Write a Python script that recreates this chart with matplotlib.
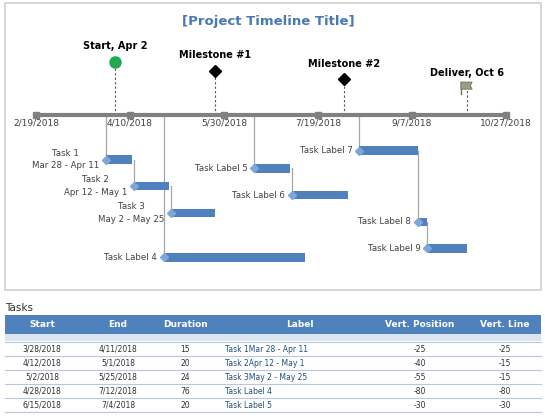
import numpy as np
import pandas as pd
import matplotlib.pyplot as plt
from matplotlib.patches import Rectangle

# Datos
task_labels = ['Task 1\nMar 28 - Apr 11', 'Task 2\nApr 12 - May 1', 'Task 3\nMay 2 - May 25',
               'Task Label 4', 'Task Label 5', 'Task Label 6', 'Task Label 7',
               'Task Label 8', 'Task Label 9']
task_start = ['2018-03-28', '2018-04-12', '2018-05-02', '2018-04-28', '2018-06-15',
              '2018-07-05', '2018-08-10', '2018-09-10', '2018-09-15']
task_end = ['2018-04-11', '2018-05-01', '2018-05-25', '2018-07-12', '2018-07-04',
            '2018-08-04', '2018-09-10', '2018-09-15', '2018-10-06']
task_pos = [-25, -40, -55, -80, -30, -45, -20, -60, -75]
task_vline = [-25, -15, -15, -80, -30, -15, -20, -40, -15]

ms_labels = ['Start, Apr 2', 'Milestone #1', 'Milestone #2', 'Deliver, Oct 6']
ms_dates = ['2018-04-02', '2018-05-25', '2018-08-02', '2018-10-06']
ms_pos = [30, 25, 20, 15]

tick_dates = ['2018-02-19', '2018-04-10', '2018-05-30', '2018-07-19', '2018-09-07', '2018-10-27']

tbl_cols = ['Start', 'End', 'Duration', 'Label', 'Vert. Position', 'Vert. Line']
tbl_start = ['3/28/2018', '4/12/2018', '5/2/2018', '4/28/2018', '6/15/2018']
tbl_end = ['4/11/2018', '5/1/2018', '5/25/2018', '7/12/2018', '7/4/2018']
tbl_dur = [15, 20, 24, 76, 20]
tbl_label = ['Task 1Mar 28 - Apr 11', 'Task 2Apr 12 - May 1', 'Task 3May 2 - May 25',
             'Task Label 4', 'Task Label 5']
tbl_vpos = [-25, -40, -55, -80, -30]
tbl_vline = [-25, -15, -15, -80, -30]

d0 = pd.Timestamp(tick_dates[0])
def days(s):
    return (pd.Timestamp(s) - d0).days

W, H = 545, 420
pxd = 470 / 250.0   # pixels por dia
pxu = 1.78          # pixels por unidad vertical
x0, y0 = 36, 115

fig = plt.figure(figsize=(W / 100, H / 100), dpi=100)
fig.patch.set_facecolor('white')
ax = fig.add_axes([0, 0, 1, 1])
ax.set_xlim(-x0 / pxd, (W - x0) / pxd)
ax.set_ylim((y0 - H) / pxu, y0 / pxu)
ax.axis('off')

blue = '#4f81bd'
txt = '#404040'

# Marco del grafico
fig.patches.append(Rectangle((5 / W, 1 - 290 / H), 536 / W, 287 / H, transform=fig.transFigure,
                             fill=False, ec='#d0d0d0', lw=1.2))
fig.text(268 / W, 1 - 22 / H, '[Project Timeline Title]', ha='center', va='center',
         color='#4a7ab5', fontsize=9.5, fontweight='bold')

# Eje de tiempo
tk = [days(t) for t in tick_dates]
ax.plot([tk[0], tk[-1]], [0, 0], color='#808080', lw=3, solid_capstyle='butt', zorder=2)
ax.plot(tk, [0] * len(tk), 's', color='#808080', ms=4, zorder=2)
for t, s in zip(tk, tick_dates):
    ts = pd.Timestamp(s)
    ax.text(t, -4.5, f'{ts.month}/{ts.day}/{ts.year}', ha='center', va='center',
            fontsize=6.5, color=txt)

# Hitos
for lab, d, p in zip(ms_labels, ms_dates, ms_pos):
    x = days(d)
    ax.plot([x, x], [0, p], ls=(0, (2, 2)), color='#555555', lw=0.8, zorder=1)
    if lab.startswith('Start'):
        ax.plot(x, p, 'o', color='#1faa4f', ms=8, zorder=3)
    elif lab.startswith('Deliver'):
        ax.plot([x - 3, x - 3], [p - 3, p + 3.5], color='#707060', lw=1, zorder=3)
        ax.fill([x - 3, x + 3, x + 2, x + 3, x - 3], [p + 3.5, p + 3.5, p + 1.5, p - 0.5, p - 0.5],
                color='#a09c88', ec='#707060', lw=0.6, zorder=3)
    else:
        ax.plot(x, p, 'D', color='black', ms=6, zorder=3)
    ax.text(x, p + 8.5, lab, ha='center', va='center', fontsize=7, fontweight='bold', color='black')

# Tareas
for lab, s, e, p, v in zip(task_labels, task_start, task_end, task_pos, task_vline):
    xs, xe = days(s), days(e)
    ax.plot([xs, xs], [p, p - v], color='#a6a6a6', lw=0.9, zorder=1)
    ax.barh(p, xe - xs, left=xs, height=4.8, color=blue, zorder=2)
    ax.plot(xs, p, 'D', color='#7ea6d8', ms=4.5, zorder=3)
    ax.text(xs - 3.5, p, lab, ha='right', va='center', fontsize=6.2, color=txt,
            multialignment='center', linespacing=1.5)

# Tabla
def fy(y):
    return 1 - y / H

fig.text(5 / W, fy(308), 'Tasks', ha='left', va='center', fontsize=7.5, color='#303030')
fig.patches.append(Rectangle((5 / W, fy(334)), 536 / W, 19 / H, transform=fig.transFigure,
                             color=blue, ec='none'))
fig.patches.append(Rectangle((5 / W, fy(341)), 536 / W, 7 / H, transform=fig.transFigure,
                             color='#dce6f1', ec='none'))
col_x = [42, 118, 185, 300, 420, 505]
for cx, c in zip(col_x, tbl_cols):
    fig.text(cx / W, fy(324.5), c, ha='center', va='center', fontsize=6.5,
             color='white', fontweight='bold')

row_y = [349, 363, 377, 391, 405]
for i, ry in enumerate(row_y):
    vals = [tbl_start[i], tbl_end[i], str(tbl_dur[i]), tbl_label[i],
            str(tbl_vpos[i]), str(tbl_vline[i])]
    for j, (cx, v) in enumerate(zip(col_x, vals)):
        if j == 3:
            fig.text(225 / W, fy(ry), v, ha='left', va='center', fontsize=5.5, color='#1f4e79')
        else:
            fig.text(cx / W, fy(ry), v, ha='center', va='center', fontsize=5.5, color='#303030')
    fig.lines.append(plt.Line2D([5 / W, 541 / W], [fy(ry - 7), fy(ry - 7)], transform=fig.transFigure,
                                color='#b8c7dc', lw=0.8))
fig.lines.append(plt.Line2D([5 / W, 541 / W], [fy(412), fy(412)], transform=fig.transFigure,
                            color='#b8c7dc', lw=0.8))

plt.savefig('out.png', dpi=100)
